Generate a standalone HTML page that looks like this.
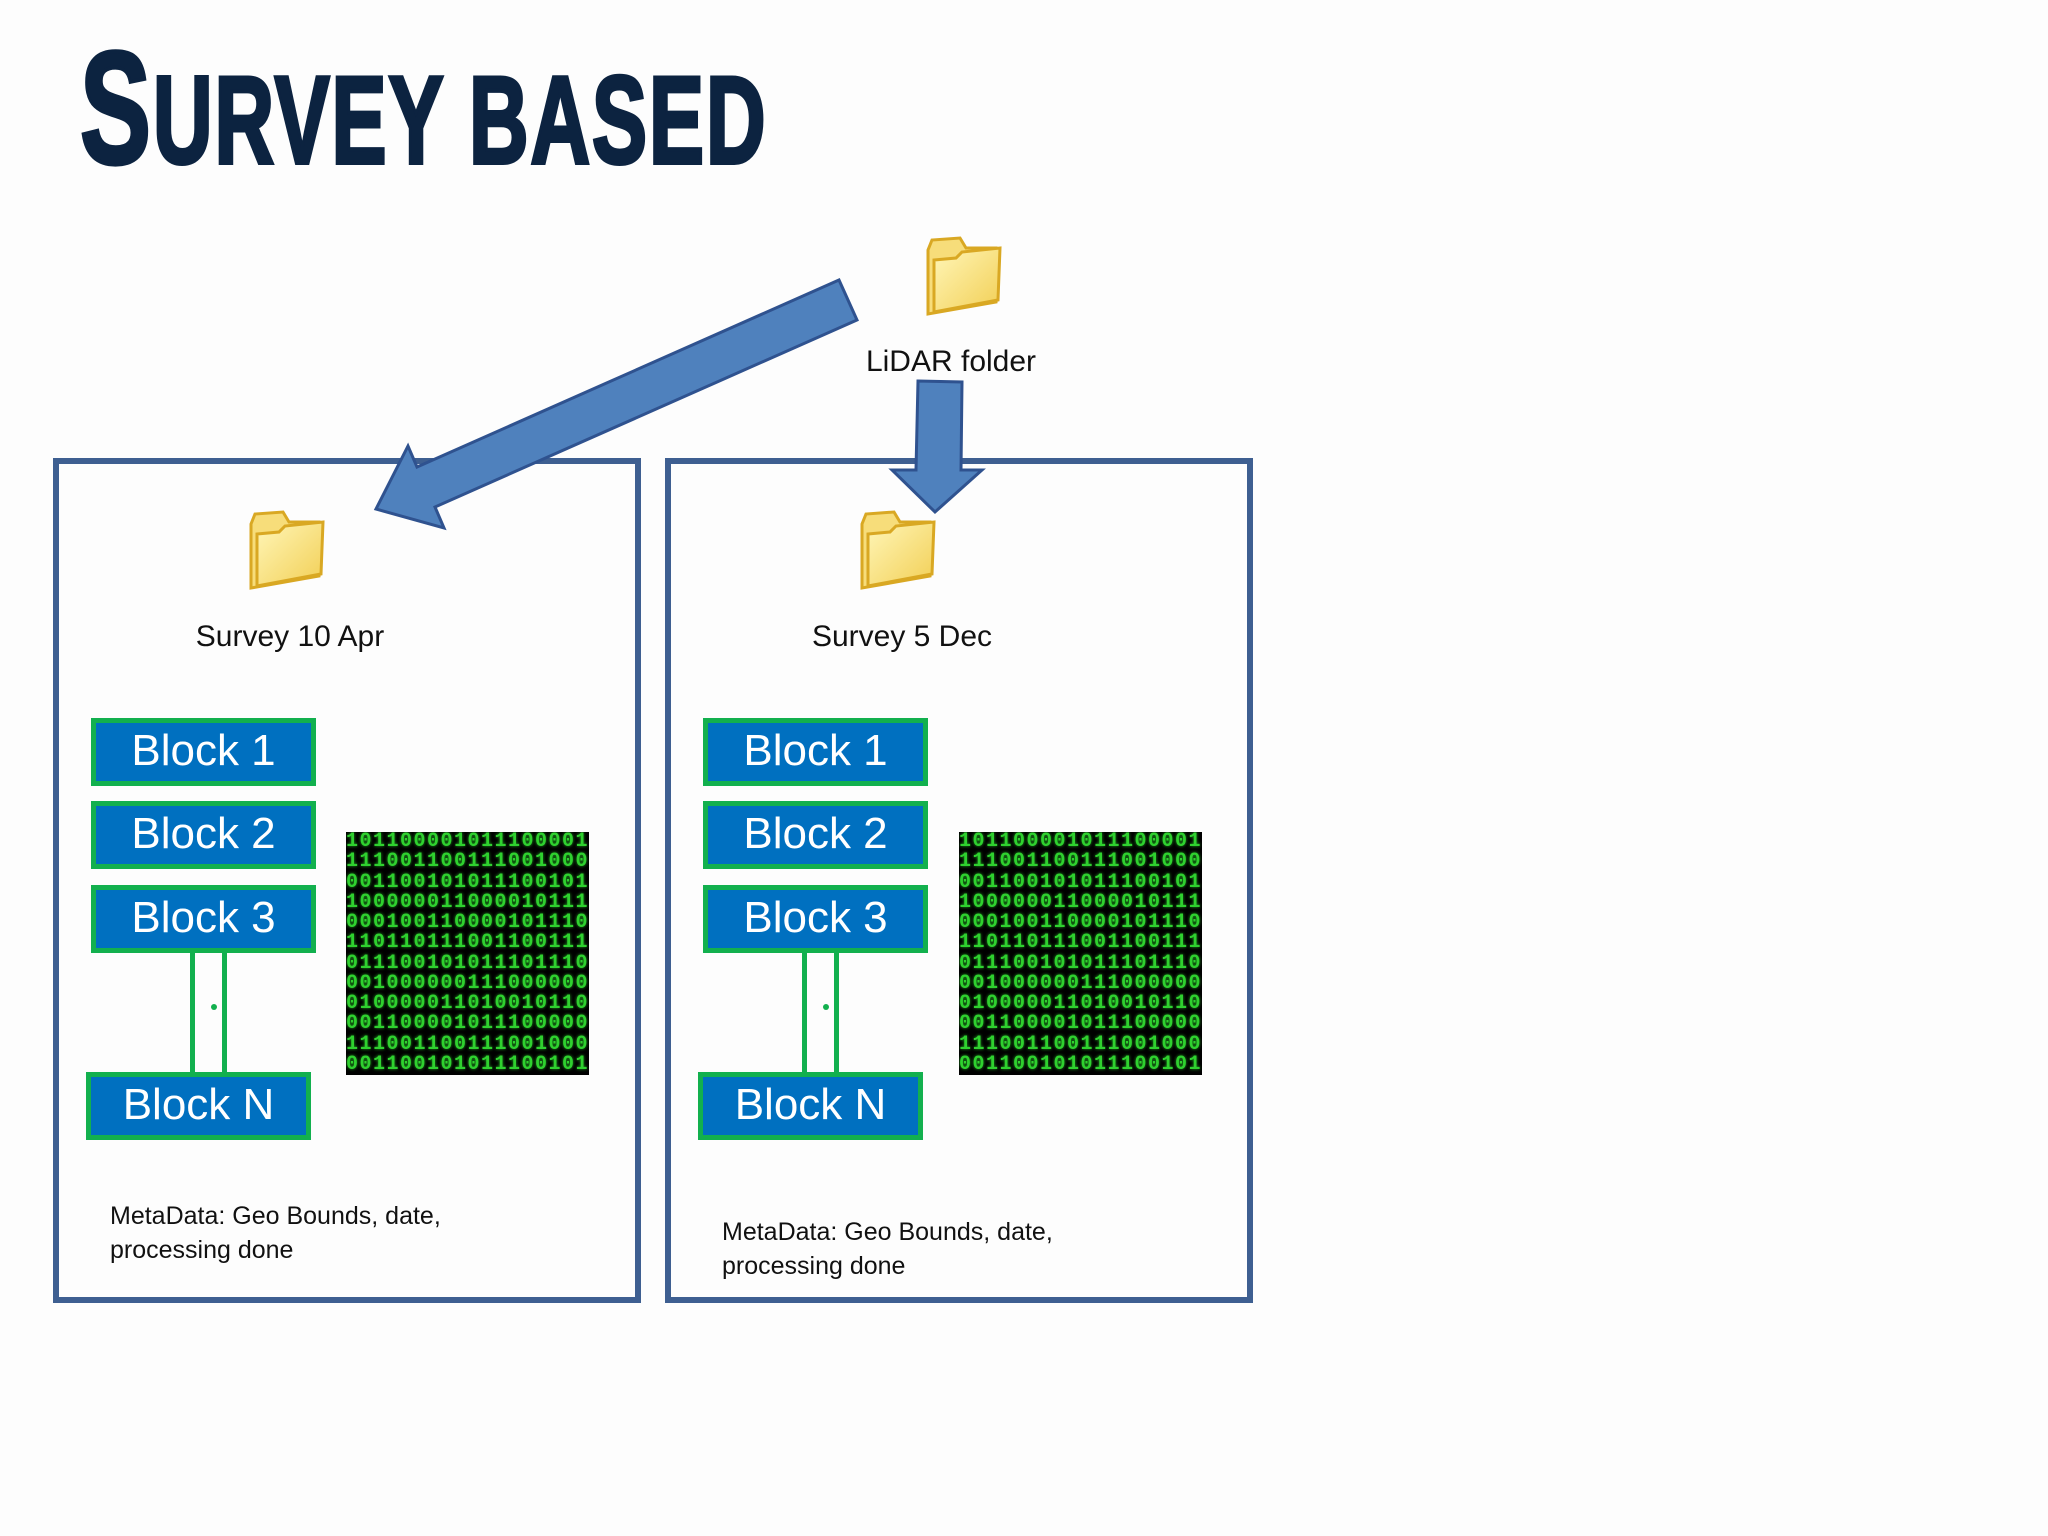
<!DOCTYPE html>
<html><head><meta charset="utf-8"><style>
html,body{margin:0;padding:0}
body{width:2048px;height:1536px;background:#fdfdfd;position:relative;overflow:hidden;font-family:"Liberation Sans",sans-serif}
.abs{position:absolute}
.title{left:80px;top:28px;font-family:"Liberation Sans Narrow","Liberation Sans",sans-serif;font-weight:bold;color:#0c2340;font-size:160px;line-height:160px;letter-spacing:3px;transform:scaleX(0.665);transform-origin:left top;white-space:nowrap;-webkit-text-stroke:4px #0c2340}
.title .sc{font-size:124px}
.box{border:6px solid #3e5f91;box-sizing:border-box}
.lbl{font-family:"Liberation Sans",sans-serif;font-size:30px;color:#111;white-space:nowrap;transform:translateX(-50%)}
.blk{background:#0070c0;border:5px solid #12b04e;box-sizing:border-box;color:#fff;font-size:44px;text-align:center;line-height:56px;width:225px;height:68px}
.vl{width:5px;background:#12b04e}
.meta{font-size:25px;color:#111;line-height:34px}
.mx{background:#000;width:243px;height:243px;overflow:hidden;font-family:"Liberation Mono",monospace;font-weight:bold;color:#2fd12f;font-size:20px;line-height:20.25px;letter-spacing:1.5px;white-space:pre;text-shadow:0 0 3px #2a2}
</style></head><body>
<div class="abs title">S<span class="sc">URVEY BASED</span></div>

<div class="abs box" style="left:53px;top:458px;width:588px;height:845px"></div>
<div class="abs box" style="left:665px;top:458px;width:588px;height:845px"></div>

<svg class="abs" style="left:0;top:0" width="2048" height="1536">
<defs>
<linearGradient id="fg" x1="0" y1="0" x2="1" y2="1"><stop offset="0" stop-color="#fff6b8"/><stop offset="1" stop-color="#f2cf55"/></linearGradient>
<g id="folder">
<path d="M2,14 L2,78 L70,66 L70,12 L40,12 L34,2 L6,4 Z" fill="#f7dd7a" stroke="#d9a823" stroke-width="3"/>
<path d="M8,76 L8,24 L30,22 L36,16 L74,12 L72,64 Z" fill="url(#fg)" stroke="#d9a823" stroke-width="3"/>
</g>
</defs>
<use href="#folder" x="926" y="236"/>
<use href="#folder" x="249" y="510"/>
<use href="#folder" x="860" y="510"/>
<polygon points="857,320 839,280 417,467 408,446 376,509 444,528 435,507" fill="#4f81bd" stroke="#2f528f" stroke-width="3" stroke-linejoin="miter"/>
<polygon points="918,381 962,382 961,470 982,470 935,512 892,470 916,470" fill="#4f81bd" stroke="#2f528f" stroke-width="3"/>
</svg>

<div class="abs lbl" style="left:951px;top:345px">LiDAR folder</div>
<div class="abs lbl" style="left:290px;top:620px">Survey 10 Apr</div>
<div class="abs lbl" style="left:902px;top:620px">Survey 5 Dec</div>

<div class="abs blk" style="left:91px;top:718px">Block 1</div>
<div class="abs blk" style="left:91px;top:801px">Block 2</div>
<div class="abs blk" style="left:91px;top:885px">Block 3</div>
<div class="abs vl" style="left:190px;top:953px;height:119px"></div>
<div class="abs vl" style="left:222px;top:953px;height:119px"></div>
<div class="abs" style="left:211px;top:1004px;width:6px;height:6px;border-radius:3px;background:#12b04e"></div>
<div class="abs blk" style="left:86px;top:1072px">Block N</div>

<div class="abs blk" style="left:703px;top:718px">Block 1</div>
<div class="abs blk" style="left:703px;top:801px">Block 2</div>
<div class="abs blk" style="left:703px;top:885px">Block 3</div>
<div class="abs vl" style="left:802px;top:953px;height:119px"></div>
<div class="abs vl" style="left:834px;top:953px;height:119px"></div>
<div class="abs" style="left:823px;top:1004px;width:6px;height:6px;border-radius:3px;background:#12b04e"></div>
<div class="abs blk" style="left:698px;top:1072px">Block N</div>

<div class="abs mx" style="left:346px;top:832px">101100001011100001
111001100111001000
001100101011100101
100000011000010111
000100110000101110
110110111001100111
011100101011101110
001000000111000000
010000011010010110
001100001011100000
111001100111001000
001100101011100101</div>
<div class="abs mx" style="left:959px;top:832px">101100001011100001
111001100111001000
001100101011100101
100000011000010111
000100110000101110
110110111001100111
011100101011101110
001000000111000000
010000011010010110
001100001011100000
111001100111001000
001100101011100101</div>

<div class="abs meta" style="left:110px;top:1199px">MetaData: Geo Bounds, date,<br>processing done</div>
<div class="abs meta" style="left:722px;top:1215px">MetaData: Geo Bounds, date,<br>processing done</div>
</body></html>
